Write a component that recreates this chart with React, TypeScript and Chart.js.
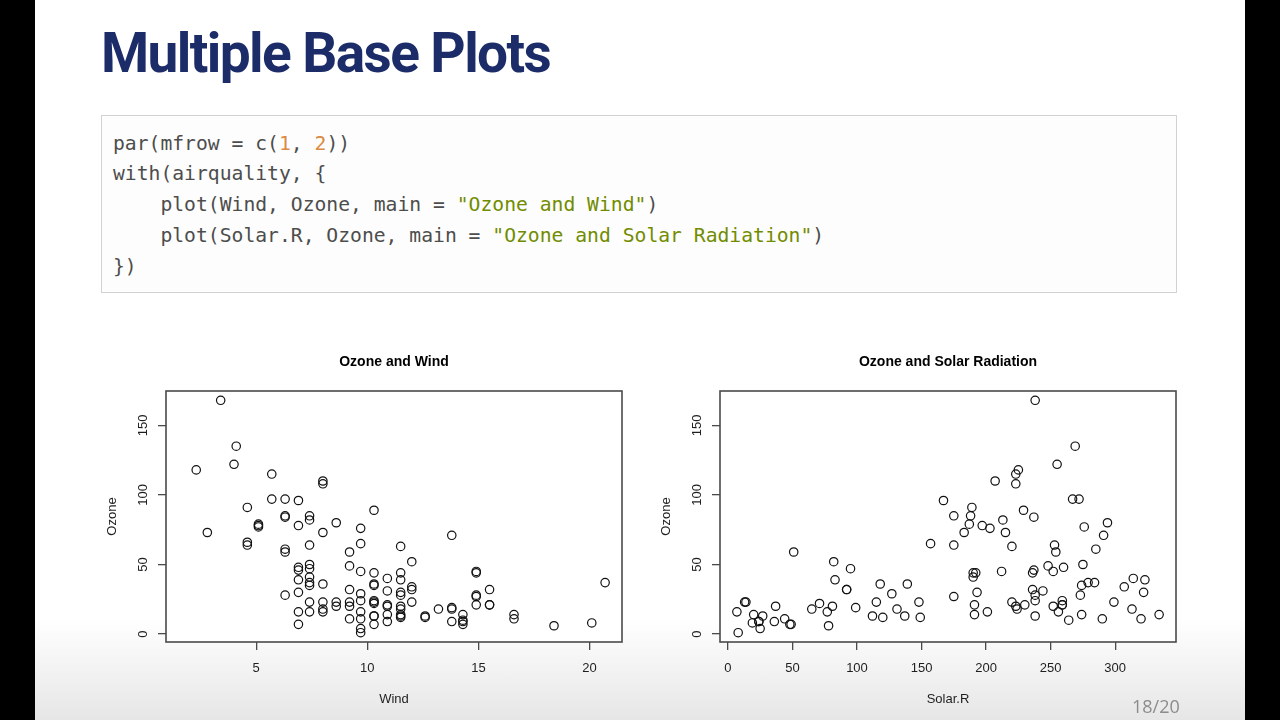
import React, { useEffect, useRef } from "react";
import { Chart, registerables } from "chart.js";

Chart.register(...registerables);

// airquality dataset (153 days, May–September), null = NA
const ozone: (number | null)[] = [
  41, 36, 12, 18, null, 28, 23, 19, 8, null, 7, 16, 11, 14, 18, 14, 34, 6, 30, 11, 1, 11, 4, 32, null, null, null, 23, 45, 115, 37,
  null, null, null, null, null, null, 29, null, 71, 39, null, null, 23, null, null, 21, 37, 20, 12, 13, null, null, null, null, null, null, null, null, null, null,
  135, 49, 32, null, 64, 40, 77, 97, 97, 85, null, 10, 27, null, 7, 48, 35, 61, 79, 63, 16, null, null, 80, 108, 20, 52, 82, 50, 64, 59,
  39, 9, 16, 78, 35, 66, 122, 89, 110, null, null, 44, 28, 65, null, 22, 59, 23, 31, 44, 21, 9, null, 45, 168, 73, null, 76, 118, 84, 85,
  96, 78, 73, 91, 47, 32, 20, 23, 21, 24, 44, 21, 28, 9, 13, 46, 18, 13, 24, 16, 13, 23, 36, 7, 14, 30, null, 14, 18, 20,
];

const solarR: (number | null)[] = [
  190, 118, 149, 313, null, null, 299, 99, 19, 194, null, 256, 290, 274, 65, 334, 307, 78, 322, 44, 8, 320, 25, 92, 66, 266, null, 13, 252, 223, 279,
  286, 287, 242, 186, 220, 264, 127, 273, 291, 323, 259, 250, 148, 332, 322, 191, 284, 37, 120, 137, 150, 59, 91, 250, 135, 127, 47, 98, 31, 138,
  269, 248, 236, 101, 175, 314, 276, 267, 272, 175, 139, 264, 175, 291, 48, 260, 274, 285, 187, 220, 7, 258, 295, 294, 223, 81, 82, 213, 275, 253, 254,
  83, 24, 77, null, null, null, 255, 229, 207, 222, 137, 192, 273, 157, 64, 71, 51, 115, 244, 190, 259, 36, 255, 212, 238, 215, 153, 203, 225, 237, 188,
  167, 197, 183, 189, 95, 92, 252, 220, 230, 259, 236, 259, 238, 24, 112, 237, 224, 27, 238, 201, 238, 14, 139, 49, 20, 193, 145, 191, 131, 223,
];

const wind: number[] = [
  7.4, 8.0, 12.6, 11.5, 14.3, 14.9, 8.6, 13.8, 20.1, 8.6, 6.9, 9.7, 9.2, 10.9, 13.2, 11.5, 12.0, 18.4, 11.5, 9.7, 9.7, 16.6, 9.7, 12.0, 16.6, 14.9, 8.0, 12.0, 14.9, 5.7, 7.4,
  8.6, 9.7, 16.1, 9.2, 8.6, 14.3, 9.7, 6.9, 13.8, 11.5, 10.9, 9.2, 8.0, 13.8, 11.5, 14.9, 20.7, 9.2, 11.5, 10.3, 6.3, 1.7, 4.6, 6.3, 8.0, 8.0, 10.3, 11.5, 14.9, 8.0,
  4.1, 9.2, 9.2, 10.9, 4.6, 10.9, 5.1, 6.3, 5.7, 7.4, 8.6, 14.3, 14.9, 14.9, 14.3, 6.9, 10.3, 6.3, 5.1, 11.5, 6.9, 9.7, 11.5, 8.6, 8.0, 8.6, 12.0, 7.4, 7.4, 7.4, 9.2,
  6.9, 13.8, 7.4, 6.9, 7.4, 4.6, 4.0, 10.3, 8.0, 8.6, 11.5, 11.5, 11.5, 9.7, 11.5, 10.3, 6.3, 7.4, 10.9, 10.3, 15.5, 14.3, 12.6, 9.7, 3.4, 8.0, 5.7, 9.7, 2.3, 6.3, 6.3,
  6.9, 5.1, 2.8, 4.6, 7.4, 15.5, 10.9, 10.3, 10.9, 9.7, 14.9, 15.5, 6.3, 10.9, 11.5, 6.9, 13.8, 10.3, 10.3, 8.0, 12.6, 9.2, 10.3, 10.3, 16.6, 6.9, 13.2, 14.3, 8.0, 11.5,
];

// tick labels (R's pretty() ticks)
const ozoneTicks = [0, 50, 100, 150];
const windTicks = [5, 10, 15, 20];
const solarTicks = [0, 50, 100, 150, 200, 250, 300];

// axis limits as R computes them (data range extended 4% on each side)
const windLimits = [0.94, 21.46];
const solarLimits = [-6.08, 347.08];
const ozoneLimits = [-5.68, 174.68];

const codeLines: { t: string; c?: string }[][] = [
  [{ t: "par(mfrow = c(" }, { t: "1", c: "num" }, { t: ", " }, { t: "2", c: "num" }, { t: "))" }],
  [{ t: "with(airquality, {" }],
  [{ t: "    plot(Wind, Ozone, main = " }, { t: '"Ozone and Wind"', c: "str" }, { t: ")" }],
  [{ t: "    plot(Solar.R, Ozone, main = " }, { t: '"Ozone and Solar Radiation"', c: "str" }, { t: ")" }],
  [{ t: "})" }],
];

const FONT = '"Liberation Sans", Arial, Helvetica, sans-serif';
const INK = "#1e1e1e";
const AXIS = "#4a4a4a";

const rPlot = {
  id: "rPlot",
  beforeDraw(chart: any) {
    const { ctx, chartArea: a } = chart;
    ctx.save();
    ctx.fillStyle = "#ffffff";
    ctx.fillRect(a.left, a.top, a.right - a.left, a.bottom - a.top);
    ctx.restore();
  },
  afterDraw(chart: any, _args: any, opts: any) {
    const { ctx, chartArea: a } = chart;
    ctx.save();
    ctx.strokeStyle = AXIS;
    ctx.lineWidth = 1.6;
    ctx.strokeRect(a.left, a.top, a.right - a.left, a.bottom - a.top);
    // y tick labels, rotated like R's las = 0
    ctx.fillStyle = INK;
    ctx.font = `13px ${FONT}`;
    ctx.textAlign = "center";
    ctx.textBaseline = "middle";
    const ys = chart.scales.y;
    for (const t of ys.ticks) {
      const py = ys.getPixelForValue(t.value);
      ctx.save();
      ctx.translate(a.left - 23, py);
      ctx.rotate(-Math.PI / 2);
      ctx.fillText(String(t.value), 0, 0);
      ctx.restore();
    }
    // main title
    ctx.font = `bold 14px ${FONT}`;
    ctx.fillStyle = "#000";
    ctx.fillText(opts.title, (a.left + a.right) / 2, a.top - 29);
    ctx.restore();
  },
};

function makeConfig(xs: (number | null)[], xLimits: number[], xTicks: number[], xLabel: string, title: string) {
  const points: { x: number; y: number }[] = [];
  xs.forEach((x, i) => {
    const y = ozone[i];
    if (x !== null && y !== null) points.push({ x, y });
  });
  return {
    type: "scatter" as const,
    data: {
      datasets: [
        {
          data: points,
          pointStyle: "circle",
          pointRadius: 4.2,
          pointBorderWidth: 1.2,
          borderColor: "#111",
          backgroundColor: "rgba(0,0,0,0)",
          pointHoverRadius: 4.2,
        },
      ],
    },
    options: {
      animation: false as const,
      responsive: false,
      maintainAspectRatio: false,
      events: [] as any[],
      layout: { padding: { top: 61, right: 18, bottom: 0, left: 0 } },
      plugins: {
        legend: { display: false },
        tooltip: { enabled: false },
        title: { display: false },
        rPlot: { title },
      },
      scales: {
        x: {
          type: "linear" as const,
          position: "bottom" as const,
          min: xLimits[0],
          max: xLimits[1],
          afterBuildTicks: (axis: any) => {
            axis.ticks = xTicks.map((v) => ({ value: v }));
          },
          afterFit: (axis: any) => {
            axis.height = 78;
          },
          grid: { drawOnChartArea: false, drawTicks: true, tickLength: 8, color: AXIS, lineWidth: 1.3 },
          border: { display: false },
          ticks: {
            autoSkip: false,
            maxRotation: 0,
            minRotation: 0,
            padding: 11,
            color: INK,
            font: { family: FONT, size: 13 },
          },
          title: {
            display: true,
            text: xLabel,
            color: INK,
            font: { family: FONT, size: 13 },
            padding: { top: 0, bottom: 13 },
          },
        },
        y: {
          type: "linear" as const,
          position: "left" as const,
          min: ozoneLimits[0],
          max: ozoneLimits[1],
          afterBuildTicks: (axis: any) => {
            axis.ticks = ozoneTicks.map((v) => ({ value: v }));
          },
          afterFit: (axis: any) => {
            axis.width = 71;
          },
          grid: { drawOnChartArea: false, drawTicks: true, tickLength: 8, color: AXIS, lineWidth: 1.3 },
          border: { display: false },
          ticks: { display: false },
          title: {
            display: true,
            text: "Ozone",
            color: INK,
            font: { family: FONT, size: 13 },
            padding: { top: 10, bottom: 0 },
          },
        },
      },
    },
    plugins: [rPlot],
  };
}

export default function App() {
  const leftRef = useRef<HTMLCanvasElement>(null);
  const rightRef = useRef<HTMLCanvasElement>(null);

  useEffect(() => {
    const c1 = new Chart(leftRef.current!, makeConfig(wind, windLimits, windTicks, "Wind", "Ozone and Wind") as any);
    const c2 = new Chart(
      rightRef.current!,
      makeConfig(solarR, solarLimits, solarTicks, "Solar.R", "Ozone and Solar Radiation") as any
    );
    return () => {
      c1.destroy();
      c2.destroy();
    };
  }, []);

  const colors: Record<string, string> = { num: "#dc8a42", str: "#718c00" };

  return (
    <div style={{ position: "absolute", left: 0, top: 0, width: 1280, height: 720, background: "#000", overflow: "hidden" }}>
      <div
        style={{
          position: "absolute",
          left: 35,
          top: 0,
          width: 1210,
          height: 720,
          background: "linear-gradient(to bottom, #ffffff 0%, #ffffff 86%, #e6e6e6 100%)",
        }}
      />
      <div
        style={{
          position: "absolute",
          left: 101,
          top: 26,
          fontFamily: "Roboto, 'Noto Sans', sans-serif",
          fontWeight: 700,
          fontSize: 55,
          lineHeight: 1,
          letterSpacing: "-1.6px",
          color: "#1b2c68",
          whiteSpace: "nowrap",
        }}
      >
        Multiple Base Plots
      </div>
      <div
        style={{
          position: "absolute",
          left: 101,
          top: 115,
          width: 1076,
          height: 178,
          boxSizing: "border-box",
          border: "1px solid #d2d2d2",
          background: "#fdfdfd",
        }}
      >
        <pre
          style={{
            margin: 0,
            paddingTop: 12.7,
            paddingLeft: 11,
            fontFamily: "'DejaVu Sans Mono', monospace",
            fontSize: 19.7,
            lineHeight: "30.8px",
            color: "#4d4d4c",
          }}
        >
          {codeLines.map((line, i) => (
            <div key={i}>
              {line.map((s, j) => (
                <span key={j} style={s.c ? { color: colors[s.c] } : undefined}>
                  {s.t}
                </span>
              ))}
            </div>
          ))}
        </pre>
      </div>
      <canvas
        ref={leftRef}
        width={545}
        height={390}
        style={{ position: "absolute", left: 95, top: 330, width: 545, height: 390 }}
      />
      <canvas
        ref={rightRef}
        width={545}
        height={390}
        style={{ position: "absolute", left: 649, top: 330, width: 545, height: 390 }}
      />
      <div
        style={{
          position: "absolute",
          left: 1132,
          top: 697,
          fontFamily: "'Open Sans', sans-serif",
          fontSize: 18,
          lineHeight: 1,
          color: "#8c8c8c",
        }}
      >
        18/20
      </div>
    </div>
  );
}
